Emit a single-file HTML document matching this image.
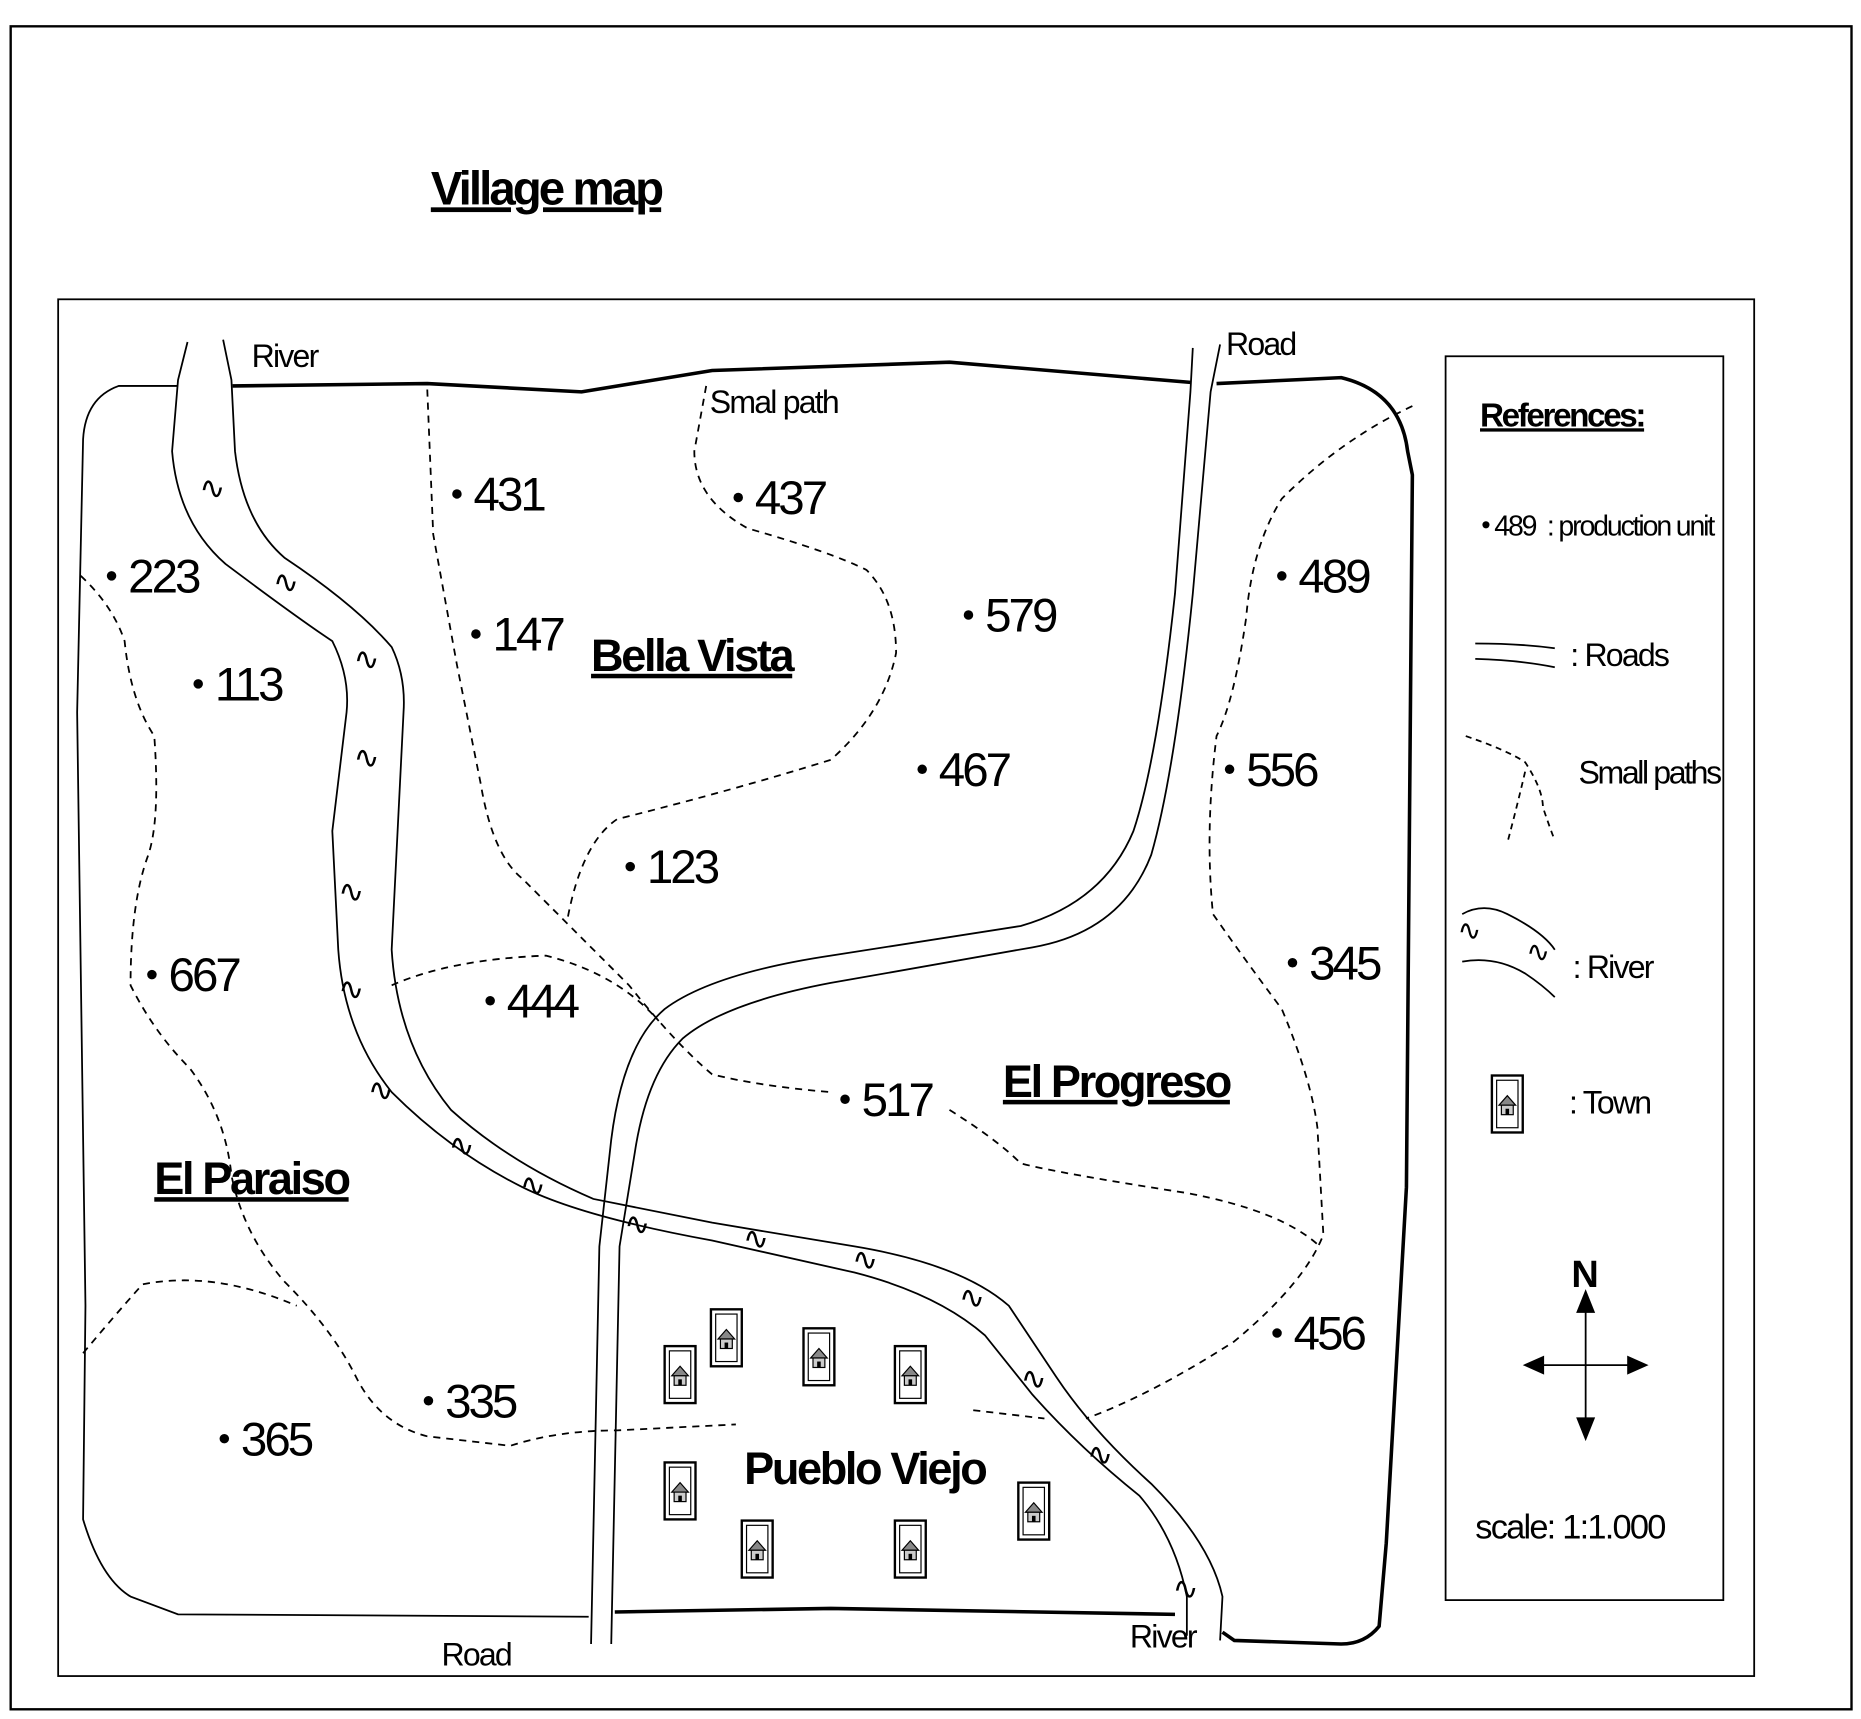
<!DOCTYPE html>
<html><head><meta charset="utf-8"><style>
html,body{margin:0;padding:0;background:#fff;}
svg{display:block;}
text{font-family:"Liberation Sans",sans-serif;fill:#000;}
.n{font-size:40px;letter-spacing:-2.5px;}
.lb{font-size:38px;font-weight:bold;letter-spacing:-2px;text-decoration:underline;}
.s{font-size:27px;letter-spacing:-1.5px;}
</style></head><body>
<svg width="1861" height="1719" viewBox="0 0 1568 1448" xmlns="http://www.w3.org/2000/svg">
<defs>
<g id="town">
<rect x="-13" y="-24" width="26" height="48" fill="#fff" stroke="#000" stroke-width="2"/>
<rect x="-9" y="-20" width="18" height="40" fill="none" stroke="#000" stroke-width="1"/>
<path d="M-7,1 L0,-7 L7,1 Z" fill="#888" stroke="#000" stroke-width="1"/>
<rect x="-5" y="1" width="10" height="8" fill="#ccc" stroke="#000" stroke-width="1"/>
<rect x="-1.5" y="4" width="3" height="5" fill="#000"/>
</g>
</defs>
<rect x="9" y="22" width="1551" height="1418" fill="none" stroke="#000" stroke-width="2"/>
<rect x="49" y="252" width="1429" height="1160" fill="none" stroke="#000" stroke-width="1.5"/>
<text x="363" y="172" style="font-size:40px;font-weight:bold;letter-spacing:-2.5px;text-decoration:underline">Village map</text>

<g fill="none" stroke="#000">
<path d="M196,325 L360,323 L490,330 L600,312 L800,305 L1003,322" stroke-width="3"/>
<path d="M1025,323 L1130,318 Q1180,330 1186,380 L1190,400 L1185,1000 L1168,1300 L1162,1370 Q1150,1385 1130,1385 L1040,1382 L1030,1375" stroke-width="3"/>
<path d="M518,1358 L700,1355 L990,1360" stroke-width="3"/>
<path d="M150,325 L100,325 Q72,335 70,370 L65,600 L72,1100 L70,1280 Q85,1330 110,1345 L150,1360 L496,1362" stroke-width="1.5"/>
<path d="M158,288 L150,320 L145,380 Q150,440 190,475 Q250,520 280,540 Q295,570 292,600 L280,700 L285,800 Q290,870 330,920 Q380,970 440,1000 Q490,1025 600,1045 L720,1072 Q790,1090 830,1125 L870,1175 Q910,1220 960,1260 Q990,1295 1000,1345 L1000,1378" stroke-width="1.5"/>
<path d="M188,286 L195,320 L198,380 Q205,440 240,470 Q300,510 330,545 Q342,570 340,600 L335,700 L330,800 Q335,880 380,935 Q430,980 500,1010 L600,1030 L720,1050 Q810,1065 850,1100 L890,1160 Q920,1205 970,1250 Q1020,1300 1030,1345 L1028,1382" stroke-width="1.5"/>
<path d="M1005,293 L1003,330 L990,500 Q975,640 955,700 Q930,760 860,780 L700,805 Q600,820 560,850 Q525,880 515,960 L505,1050 L498,1385" stroke-width="1.5"/>
<path d="M1028,290 L1020,330 L1005,500 Q990,650 970,720 Q945,785 870,798 L700,828 Q610,845 575,875 Q545,905 535,970 L522,1050 L515,1385" stroke-width="1.5"/>
<g stroke-width="1.5" stroke-dasharray="6,5">
<path d="M360,328 L365,450 L385,560 L405,660 Q415,720 440,740 Q480,780 530,830 Q570,880 600,905 Q640,915 700,920"/>
<path d="M595,325 L585,380 Q585,420 630,445 Q700,465 730,480 Q755,505 755,550 Q745,600 700,640 Q620,665 520,690 Q490,710 478,775"/>
<path d="M330,830 Q380,808 460,805 Q520,820 555,860"/>
<path d="M800,935 Q840,960 860,980 Q890,988 1000,1005 Q1080,1020 1112,1050"/>
<path d="M1190,342 Q1130,370 1080,420 Q1055,460 1050,520 Q1040,590 1025,620 Q1015,700 1022,770 Q1050,810 1080,850 Q1105,910 1110,950 L1115,1040 Q1100,1080 1040,1130 Q970,1175 915,1195"/>
<path d="M820,1188 L880,1195"/>
<path d="M68,485 Q95,510 105,540 Q110,590 130,620 Q135,690 125,720 Q110,760 110,830 Q130,870 160,900 Q190,940 195,990 Q205,1040 240,1080 Q280,1120 300,1160 Q320,1200 360,1210 L430,1218 Q470,1205 520,1205 L620,1200"/>
<path d="M70,1140 Q95,1110 120,1082 Q180,1070 250,1100"/>
</g>
</g>
<g font-size="26" style="font-family:'DejaVu Sans',sans-serif">
<text x="168" y="420">∿</text><text x="230" y="499">∿</text><text x="298" y="564">∿</text><text x="298" y="647">∿</text>
<text x="285" y="760">∿</text><text x="285" y="842">∿</text><text x="310" y="927">∿</text><text x="378" y="974">∿</text>
<text x="438" y="1007">∿</text><text x="526" y="1040">∿</text><text x="626" y="1052">∿</text><text x="718" y="1070">∿</text>
<text x="808" y="1102">∿</text><text x="860" y="1170">∿</text><text x="916" y="1234">∿</text><text x="988" y="1347">∿</text>
</g>
<text class="s" x="212" y="309">River</text>
<text class="s" x="1033" y="299">Road</text>
<text class="s" x="598" y="348">Smal path</text>
<text class="s" x="372" y="1403">Road</text>
<text class="s" x="952" y="1388">River</text>
<g class="n">
<circle cx="385" cy="416" r="4"/><text x="399" y="430">431</text>
<circle cx="622" cy="419" r="4"/><text x="636" y="433">437</text>
<circle cx="94" cy="485" r="4"/><text x="108" y="499">223</text>
<circle cx="401" cy="534" r="4"/><text x="415" y="548">147</text>
<circle cx="167" cy="576" r="4"/><text x="181" y="590">113</text>
<circle cx="816" cy="518" r="4"/><text x="830" y="532">579</text>
<circle cx="1080" cy="485" r="4"/><text x="1094" y="499">489</text>
<circle cx="777" cy="648" r="4"/><text x="791" y="662">467</text>
<circle cx="1036" cy="648" r="4"/><text x="1050" y="662">556</text>
<circle cx="531" cy="730" r="4"/><text x="545" y="744">123</text>
<circle cx="128" cy="821" r="4"/><text x="142" y="835">667</text>
<circle cx="413" cy="843" r="4"/><text x="427" y="857">444</text>
<circle cx="1089" cy="811" r="4"/><text x="1103" y="825">345</text>
<circle cx="712" cy="926" r="4"/><text x="726" y="940">517</text>
<circle cx="1076" cy="1123" r="4"/><text x="1090" y="1137">456</text>
<circle cx="361" cy="1180" r="4"/><text x="375" y="1194">335</text>
<circle cx="189" cy="1212" r="4"/><text x="203" y="1226">365</text>
</g>
<text class="lb" x="498" y="565">Bella Vista</text>
<text class="lb" x="845" y="924">El Progreso</text>
<text class="lb" x="130" y="1006">El Paraiso</text>
<text x="627" y="1250" style="font-size:38px;font-weight:bold;letter-spacing:-2px">Pueblo Viejo</text>
<use href="#town" x="573" y="1158"/><use href="#town" x="612" y="1127"/><use href="#town" x="690" y="1143"/>
<use href="#town" x="767" y="1158"/><use href="#town" x="573" y="1256"/><use href="#town" x="638" y="1305"/>
<use href="#town" x="767" y="1305"/><use href="#town" x="871" y="1273"/>
<rect x="1218" y="300" width="234" height="1048" fill="none" stroke="#000" stroke-width="1.5"/>
<text x="1247" y="359" style="font-size:28px;font-weight:bold;letter-spacing:-2px;text-decoration:underline">References:</text>
<circle cx="1252" cy="442" r="3"/>
<text x="1259" y="451" style="font-size:24px;letter-spacing:-1.8px">489 &#160;: production unit</text>
<g fill="none" stroke="#000" stroke-width="1.5">
<path d="M1243,542 Q1280,542 1310,546"/><path d="M1243,555 Q1280,556 1310,562"/>
<path d="M1235,620 Q1270,632 1285,642 Q1300,665 1300,680 Q1305,695 1310,708" stroke-dasharray="5,4"/>
<path d="M1285,650 Q1278,680 1270,710" stroke-dasharray="5,4"/>
<path d="M1232,770 Q1250,760 1270,770 Q1300,785 1310,800"/>
<path d="M1232,810 Q1260,805 1285,820 Q1300,830 1310,840"/>
<path d="M1336,1095 L1336,1200 M1294,1150 L1378,1150"/>
</g>
<text class="s" x="1323" y="561">: Roads</text>
<text class="s" x="1330" y="660" style="letter-spacing:-2px">Small paths</text>
<text x="1228" y="792" font-size="24" style="font-family:'DejaVu Sans',sans-serif">∿</text>
<text x="1286" y="810" font-size="24" style="font-family:'DejaVu Sans',sans-serif">∿</text>
<text class="s" x="1325" y="824">: River</text>
<use href="#town" x="1270" y="930"/>
<text class="s" x="1322" y="938">: Town</text>
<text x="1324" y="1084" style="font-size:32px;font-weight:bold">N</text>
<path d="M1336,1086 L1328,1106 L1344,1106 Z M1336,1214 L1328,1194 L1344,1194 Z M1283,1150 L1301,1142 L1301,1158 Z M1389,1150 L1371,1142 L1371,1158 Z" fill="#000"/>
<text x="1243" y="1296" style="font-size:29px;letter-spacing:-1.5px">scale: 1:1.000</text>
</svg>
</body></html>
